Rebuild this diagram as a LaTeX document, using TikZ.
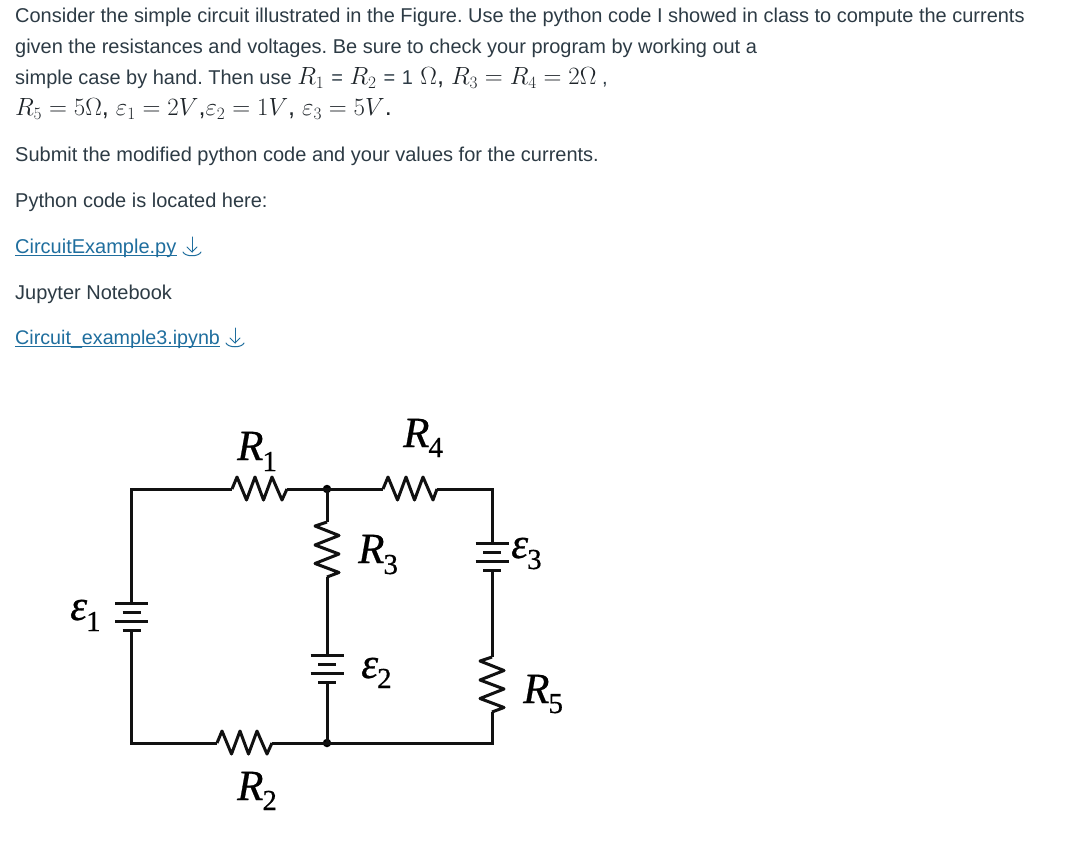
\documentclass[tikz,border=0pt]{standalone}
\usepackage[no-math]{fontspec}
\setmainfont{Liberation Sans}
\newfontfamily\labfont[FakeBold=0.6]{Liberation Serif}
\usetikzlibrary{calc}
\frenchspacing
\definecolor{bodytext}{HTML}{2D3B45}
\definecolor{mathtext}{HTML}{1E2429}
\definecolor{linkblue}{HTML}{1F6E9E}
\definecolor{wire}{HTML}{111111}
\newcommand{\bodysize}{\fontsize{20}{24}\selectfont}
\newcommand{\mathsize}{\fontsize{25.3}{29}\selectfont\color{mathtext}}
\newcommand{\circlab}[3]{{\labfont\fontsize{43}{43}\selectfont\itshape #1}\kern-1pt\raisebox{-#3pt}{\labfont\fontsize{29}{29}\selectfont #2}}
\tikzset{
  para/.style={anchor=base west,inner sep=0pt,text=bodytext,font=\bodysize},
  linktext/.style={anchor=base west,inner sep=0pt,text=linkblue,font=\bodysize},
  linkrule/.style={draw=linkblue,line width=1.1pt},
  dl/.style={draw=linkblue,line width=1pt,line cap=round,line join=round},
  cw/.style={draw=wire,line width=3pt,line join=miter},
  plate/.style={draw=wire,line width=3pt},
  lab/.style={anchor=base west,inner sep=0pt,text=black},
  dot/.style={circle,fill=black,inner sep=0pt,minimum size=8.5pt}
}
\begin{document}
\begin{tikzpicture}[x=1pt,y=-1pt]
\useasboundingbox[fill=white] (0,0) rectangle (1083,842);
% text
\node[para] (t1) at (15,23) {\fontsize{19.98}{24}\selectfont Consider the simple circuit illustrated in the Figure. Use the python code I showed in class to compute the currents};
\node[para] (t2) at (15,54) {\fontsize{19.98}{24}\selectfont given the resistances and voltages. Be sure to check your program by working out a};
\node[para] (t3) at (15,85) {\fontsize{19.98}{24}\selectfont simple case by hand. Then use {\mathsize$R_1$}\kern1.5pt\ =\kern1pt\ {\mathsize$R_2$}\kern1.5pt\ =\kern1pt\ 1\kern2pt\ {\mathsize$\Omega$, $R_3=R_4=2\Omega$} ,};
\node[para] (t4) at (15,116) {\mathsize$R_5=5\Omega$, $\varepsilon_1=2V$,$\varepsilon_2=1V$, $\varepsilon_3=5V$.};
\node[para] (t5) at (15,162) {Submit the modified python code and your values for the currents.};
\node[para] (t6) at (15,208) {Python code is located here:};
\node[linktext] (l1) at (15,253) {CircuitExample.py};
\node[para] (t7) at (15,299) {Jupyter Notebook};
\node[linktext] (l2) at (15,344) {\fontsize{19.7}{24}\selectfont Circuit\_example3.ipynb};
\draw[linkrule] ($(l1.base west)+(0,2.5)$) -- ($(l1.base east)+(0,2.5)$);
\draw[linkrule] ($(l2.base west)+(0,2.5)$) -- ($(l2.base east)+(0,2.5)$);
% download icons
\coordinate (i1) at (192,237);
\coordinate (i2) at (235,328);
\foreach \i in {i1,i2}{
  \draw[dl] (\i) -- ++(0,15);
  \draw[dl] ($(\i)+(-5,10)$) -- ++(5,5) -- ++(5,-5);
  \draw[dl] ($(\i)+(-9,15)$) .. controls ($(\i)+(-7,20)$) and ($(\i)+(7,20)$) .. ($(\i)+(9,15)$);
}
% circuit points
\coordinate (TL) at (131.5,489);
\coordinate (BL) at (131.5,743);
\coordinate (TR) at (492,489);
\coordinate (BR) at (492,743);
\node[dot] (JT) at (327,489) {};
\node[dot] (JB) at (327,743) {};
\coordinate (R1a) at (232,489);
\coordinate (R1b) at (287,489);
\coordinate (R4a) at (383,489);
\coordinate (R4b) at (437,489);
\coordinate (R2a) at (217,743);
\coordinate (R2b) at (272,743);
\coordinate (R3a) at (327,522);
\coordinate (R3b) at (327,577);
\coordinate (R5a) at (492,657);
\coordinate (R5b) at (492,712);
\coordinate (E1a) at (131.5,603);
\coordinate (E1b) at (131.5,630);
\coordinate (E2a) at (327,655);
\coordinate (E2b) at (327,682);
\coordinate (E3a) at (492,543);
\coordinate (E3b) at (492,570);
% wires
\draw[cw] (E1a) -- (TL) -- (R1a);
\draw[cw] (R1b) -- (JT.center) -- (R4a);
\draw[cw] (R4b) -- (TR) -- (E3a);
\draw[cw] (E3b) -- (R5a);
\draw[cw] (R5b) -- (BR) -- (JB.center) -- (R2b);
\draw[cw] (R2a) -- (BL) -- (E1b);
\draw[cw] (JT.center) -- (R3a);
\draw[cw] (R3b) -- (E2a);
\draw[cw] (E2b) -- (JB.center);
% resistors
\foreach \a/\b in {R1a/R1b,R4a/R4b,R2a/R2b}{
  \draw[cw,line join=round] (\a) -- ++(5,-12) -- ++(9.5,23) -- ++(8.5,-23) -- ++(8.5,23) -- ++(8.5,-23) -- ++(10,23) -- (\b);
}
\foreach \a/\b in {R3a/R3b,R5a/R5b}{
  \draw[cw,line join=round] (\a) -- ++(-12,4) -- ++(24,9.5) -- ++(-24,9.5) -- ++(24,9) -- ++(-24,9.5) -- ++(24,9) -- (\b);
}
% batteries
\foreach \e/\o in {E1a/E1b,E2a/E2b,E3a/E3b}{
  \draw[plate] ($(\e)+(-16.5,0)$) -- ($(\e)+(16.5,0)$);
  \draw[plate] ($(\e)+(-9,9)$) -- ($(\e)+(9,9)$);
  \draw[plate] ($(\e)+(-16.5,18)$) -- ($(\e)+(16.5,18)$);
  \draw[plate] ($(\o)+(-9,0)$) -- ($(\o)+(9,0)$);
}
% labels
\node[lab] (lR1) at (237,460) {\circlab{R}{1}{11}};
\node[lab] (lR4) at (403,447) {\circlab{R}{4}{10}};
\node[lab] (lR3) at (358,563) {\circlab{R}{3}{11}};
\node[lab] (lR5) at (523,703) {\circlab{R}{5}{10}};
\node[lab] (lR2) at (237,800) {\circlab{R}{2}{10}};
\node[lab] (lE1) at (70,620) {\circlab{ε}{1}{11}};
\node[lab] (lE2) at (361,678) {\circlab{ε}{2}{10}};
\node[lab] (lE3) at (511,558) {\circlab{ε}{3}{11}};
\end{tikzpicture}
\end{document}
